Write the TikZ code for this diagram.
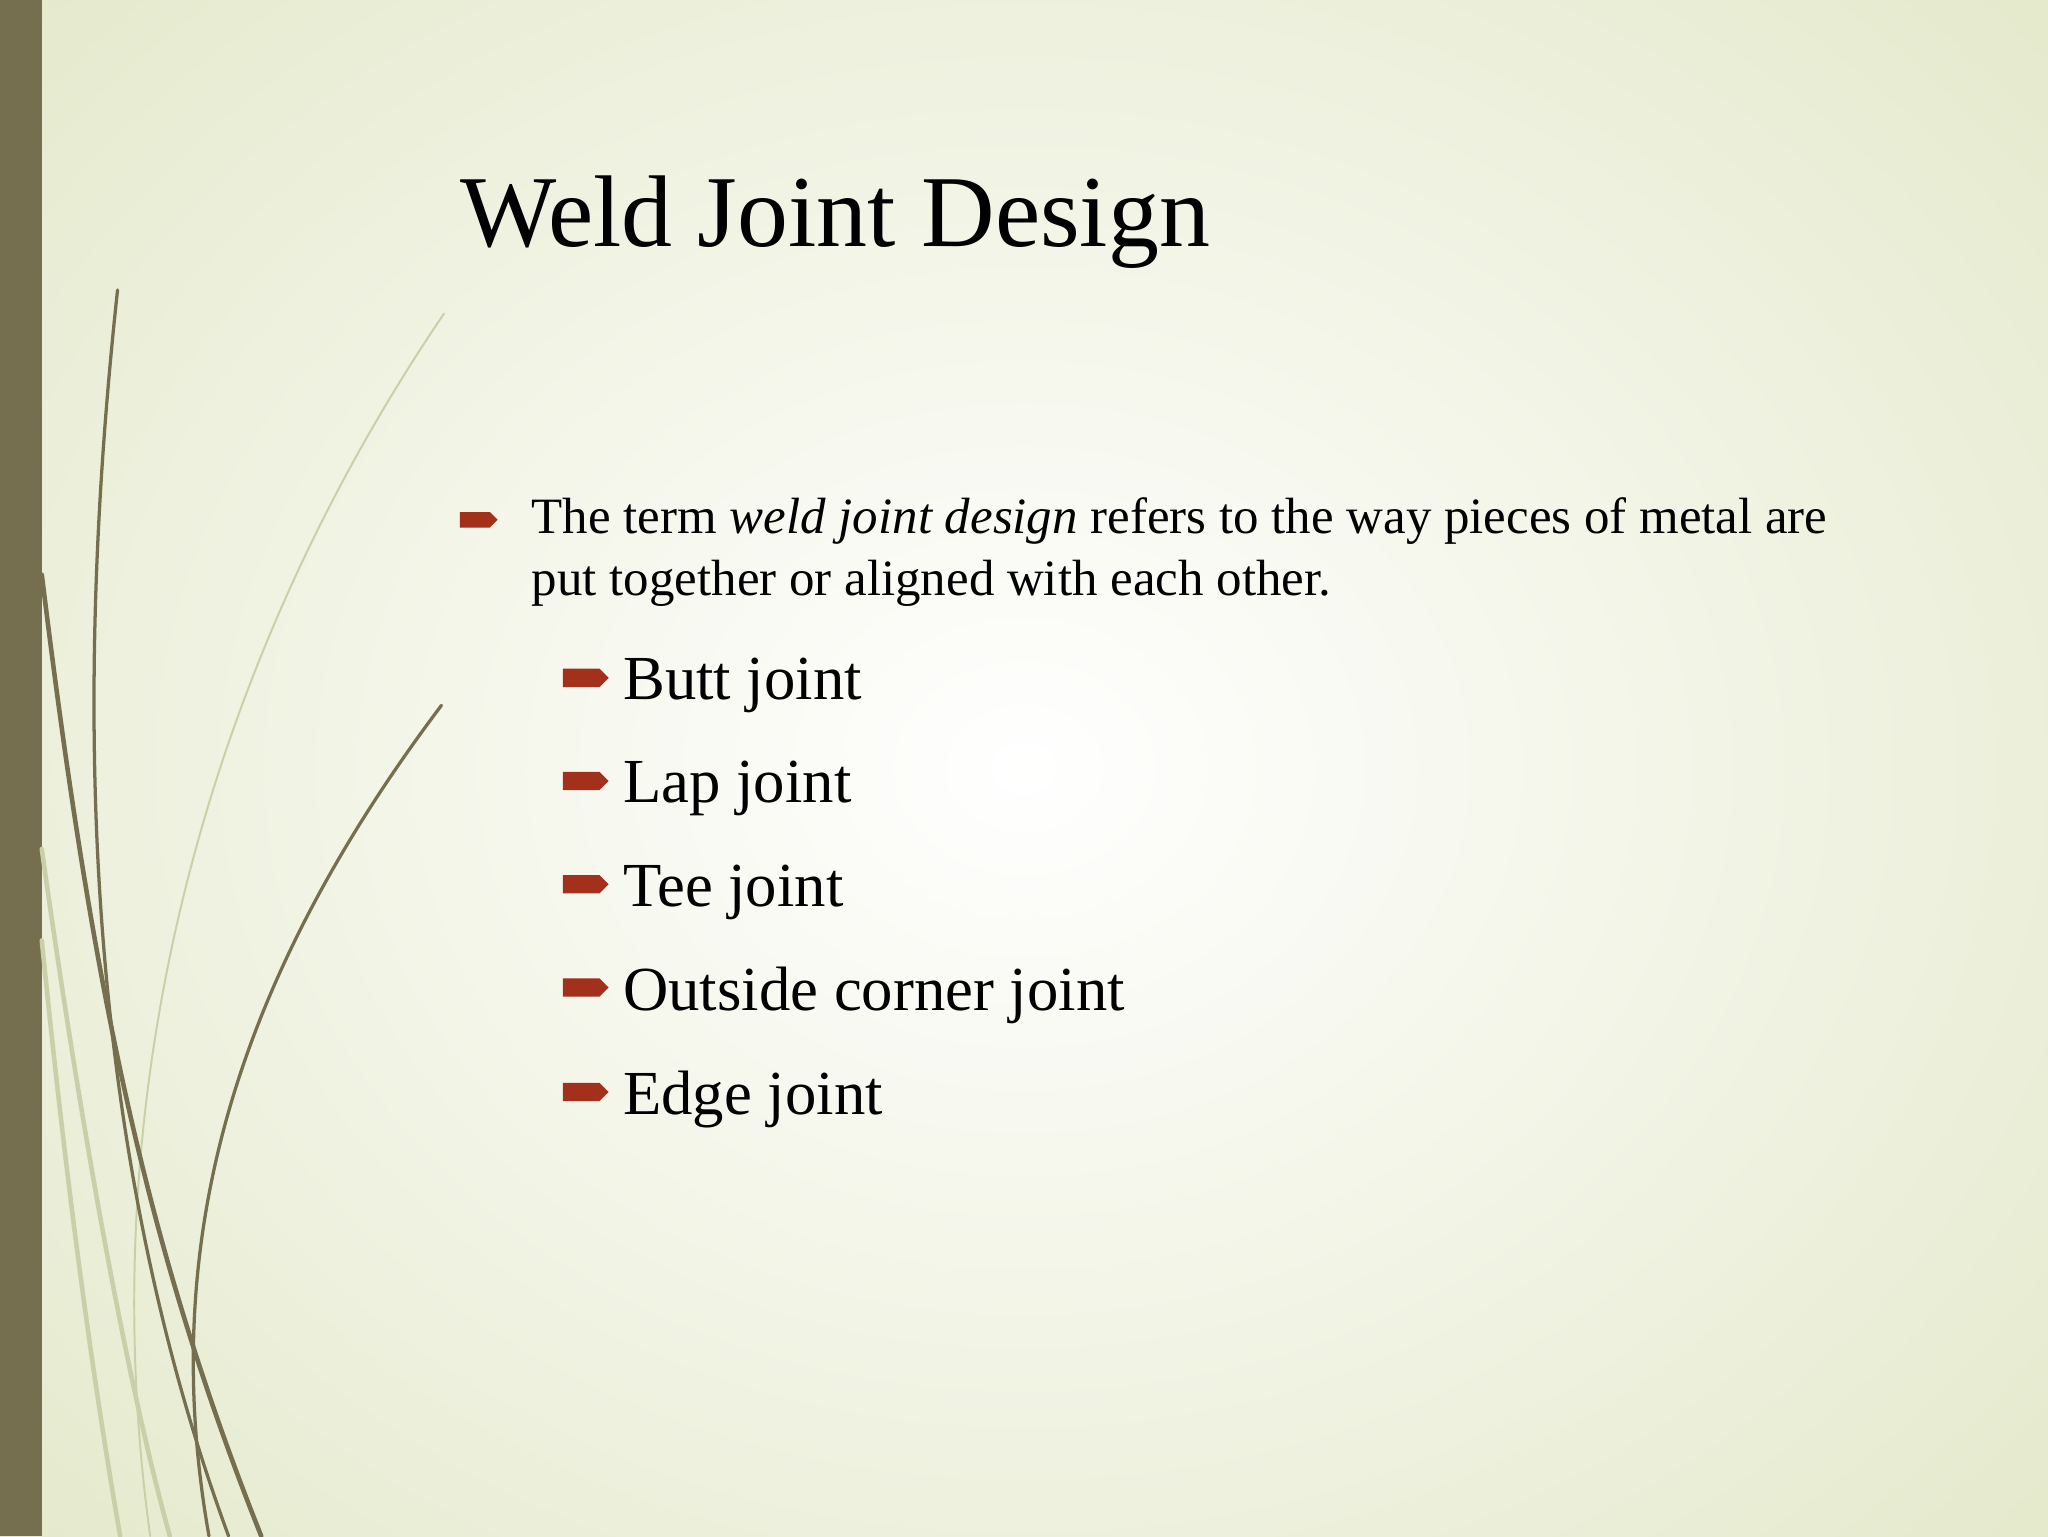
\documentclass[tikz,border=0pt]{standalone}
\usepackage{fontspec}
\setmainfont{Liberation Serif}
\begin{document}
\begin{tikzpicture}[x=1pt,y=-1pt,
  bul/.style={fill=bulred,draw=none},
  item/.style={anchor=west,font=\fontsize{48}{52}\selectfont,inner sep=0},
  dark/.style={draw=olivedark,line width=3.5pt,line cap=round},
  pale/.style={draw=olivepale,line width=3.5pt,line cap=round}]
\definecolor{bulred}{HTML}{A3301A}
\definecolor{olivedark}{HTML}{756F50}
\definecolor{olivepale}{HTML}{C9CFA8}
\definecolor{bgedge}{HTML}{E4E9CB}
\useasboundingbox (0,0) rectangle (1568,1176);
\shade[inner color=white,outer color=bgedge] (-300,-300) rectangle (1868,1476);
\fill[olivedark] (0,0) rectangle (32,1176);
% curves
\draw[pale,line width=1.5pt] (340,240) .. controls (150,520) and (70,850) .. (115,1176);
\draw[pale] (32,650) .. controls (60,850) and (95,1050) .. (130,1176);
\draw[pale] (32,720) .. controls (50,900) and (70,1050) .. (92,1176);
\draw[dark,line width=2.5pt] (90,222) .. controls (60,500) and (55,850) .. (175,1176);
\draw[dark] (32,440) .. controls (70,750) and (110,950) .. (200,1176);
\draw[dark,line width=2.5pt] (338,540) .. controls (180,750) and (120,950) .. (160,1176);
% title
\node[anchor=west,inner sep=0,font=\fontsize{78}{84}\selectfont] (title) at (352,170) {Weld Joint Design};
% body
\fill[bul] (352,392) -- (375,392) -- (381,398) -- (375,404) -- (352,404) -- cycle;
\node[anchor=north west,inner sep=0,align=left,font=\fontsize{39}{47}\selectfont] (body) at (407,381)
 {The term \textit{weld joint design} refers to the way pieces of metal are\\put together or aligned with each other.};
\foreach \y/\t [count=\i] in {525/Butt joint,604/Lap joint,683/Tee joint,762/Outside corner joint,842/Edge joint}{
  \fill[bul] (431,\y-13) -- (459,\y-13) -- (466,\y-6) -- (459,\y+1) -- (431,\y+1) -- cycle;
  \node[item] (it\i) at (477,\y) {\t};
}
\end{tikzpicture}
\end{document}
